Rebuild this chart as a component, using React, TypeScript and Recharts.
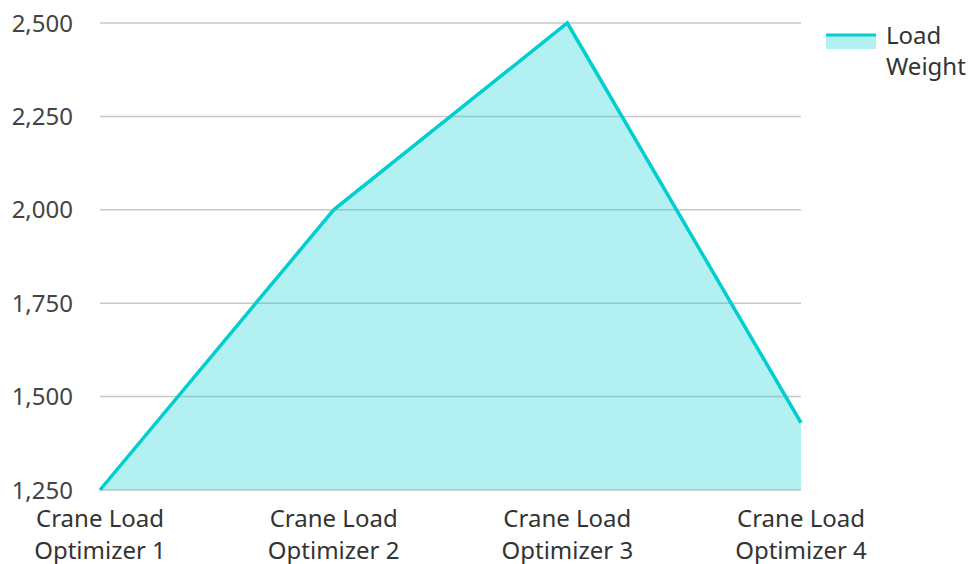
import React from "react";
import {
  AreaChart,
  Area,
  XAxis,
  YAxis,
  CartesianGrid,
} from "recharts";

const categories = [
  "Crane Load Optimizer 1",
  "Crane Load Optimizer 2",
  "Crane Load Optimizer 3",
  "Crane Load Optimizer 4",
];
const loadWeight = [1250, 2000, 2500, 1430];
const yTicks = [1250, 1500, 1750, 2000, 2250, 2500];

const data = categories.map((name, i) => ({ name, load: loadWeight[i] }));

const FONT = "'Noto Sans', 'Open Sans', sans-serif";
const TEAL = "#00CED1";

// two-line category label: "Crane Load" / "Optimizer N"
const XTick = ({ x, y, payload }: any) => {
  const words = String(payload.value).split(" ");
  const first = words.slice(0, 2).join(" ");
  const second = words.slice(2).join(" ");
  return (
    <text
      x={x}
      y={y}
      textAnchor="middle"
      fill="#333"
      fontSize={24}
      fontFamily={FONT}
    >
      <tspan x={x} dy={35}>{first}</tspan>
      <tspan x={x} dy={32}>{second}</tspan>
    </text>
  );
};

const LegendBox = () => (
  <div
    style={{
      position: "absolute",
      left: 826,
      top: 20,
      display: "flex",
      alignItems: "flex-start",
      fontFamily: FONT,
    }}
  >
    <svg width={50} height={30} style={{ marginTop: 2 }}>
      <rect x={0} y={13} width={50} height={14} fill={TEAL} fillOpacity={0.3} />
      <line x1={0} x2={50} y1={13} y2={13} stroke={TEAL} strokeWidth={3} />
    </svg>
    <div
      style={{
        marginLeft: 10,
        fontSize: 24,
        lineHeight: "31px",
        color: "#333",
        marginTop: -1,
      }}
    >
      Load
      <br />
      Weight
    </div>
  </div>
);

export default function App() {
  return (
    <div style={{ position: "absolute", left: 0, top: 0, width: 972, height: 564, background: "#fff" }}>
      <AreaChart
        width={972}
        height={564}
        data={data}
        margin={{ top: 23, right: 171, bottom: 0, left: 0 }}
      >
        <CartesianGrid vertical={false} stroke="#c8c8c8" strokeWidth={1.5} />
        <XAxis
          dataKey="name"
          height={74}
          axisLine={false}
          tickLine={false}
          tickSize={0}
          tick={<XTick />}
          interval={0}
        />
        <YAxis
          width={100}
          domain={[1250, 2500]}
          ticks={yTicks}
          axisLine={false}
          tickLine={false}
          tickSize={0}
          tickMargin={27}
          tickFormatter={(v: number) => v.toLocaleString("en-US")}
          tick={{ fill: "#444", fontSize: 24, fontFamily: FONT }}
        />
        <Area
          type="linear"
          dataKey="load"
          name="Load Weight"
          stroke={TEAL}
          strokeWidth={3.5}
          fill={TEAL}
          fillOpacity={0.3}
          dot={false}
          isAnimationActive={false}
        />
      </AreaChart>
      <LegendBox />
    </div>
  );
}
